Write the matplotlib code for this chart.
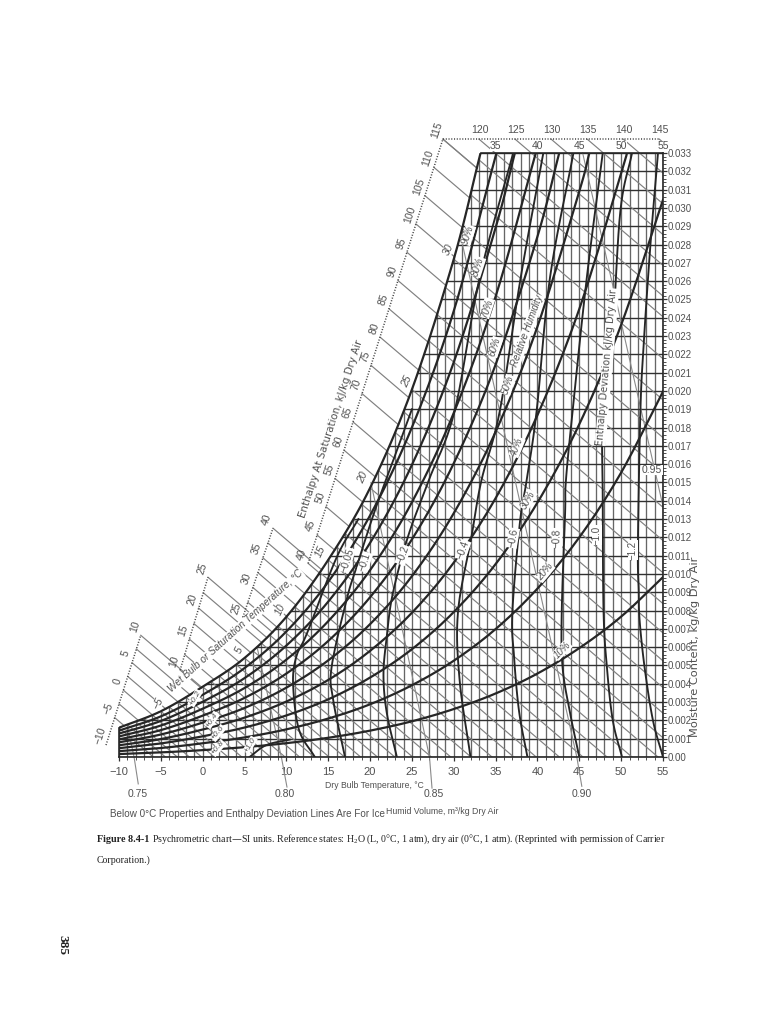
import numpy as np
import matplotlib
matplotlib.use("Agg")
import matplotlib.pyplot as plt
from matplotlib.patches import Polygon

plt.rcParams['font.family'] = ['Liberation Sans', 'DejaVu Sans']
plt.rcParams['mathtext.default'] = 'regular'

# Saturation curve and relative humidity curves (dry bulb C, kg/kg)
sat_t = [-10, -5, 0, 5, 10, 15, 20, 25, 30, 33.2]
sat_w = [0.0016, 0.0025, 0.00384, 0.00541, 0.00766, 0.01077, 0.0147, 0.02008, 0.0272, 0.033]

rh_t = [-10, -5, 0, 5, 10, 15, 20, 25, 30, 35, 40, 45, 50, 55]
rh_90_t = [-10, -5, 0, 5, 10, 15, 20, 25, 30, 35.1]
rh_90 = [0.00144, 0.00222, 0.0034, 0.00486, 0.00686, 0.00957, 0.0132, 0.01801, 0.02437, 0.033]
rh_80_t = [-10, -5, 0, 5, 10, 15, 20, 25, 30, 35, 37.3]
rh_80 = [0.00128, 0.00197, 0.00302, 0.00431, 0.00609, 0.00849, 0.0117, 0.01596, 0.02157, 0.02892, 0.033]
rh_70_t = [-10, -5, 0, 5, 10, 15, 20, 25, 30, 35, 39.8]
rh_70 = [0.00112, 0.00172, 0.00264, 0.00377, 0.00532, 0.00742, 0.01021, 0.01392, 0.0188, 0.02516, 0.033]
rh_60_t = [-10, -5, 0, 5, 10, 15, 20, 25, 30, 35, 40, 42.6]
rh_60 = [0.00096, 0.00147, 0.00226, 0.00323, 0.00456, 0.00634, 0.00873, 0.01189, 0.01605, 0.02144, 0.02844, 0.033]
rh_50_t = [-10, -5, 0, 5, 10, 15, 20, 25, 30, 35, 40, 45, 46.2]
rh_50 = [0.0008, 0.00123, 0.00188, 0.00268, 0.00379, 0.00528, 0.00726, 0.00988, 0.01332, 0.01777, 0.02352, 0.03091, 0.033]
rh_40_t = [-10, -5, 0, 5, 10, 15, 20, 25, 30, 35, 40, 45, 50, 50.7]
rh_40 = [0.00064, 0.00098, 0.0015, 0.00215, 0.00303, 0.00421, 0.0058, 0.00788, 0.01062, 0.01414, 0.01868, 0.02448, 0.03188, 0.033]
rh_30 = [0.00048, 0.00074, 0.00113, 0.00161, 0.00227, 0.00315, 0.00434, 0.00589, 0.00792, 0.01054, 0.0139, 0.01818, 0.02361, 0.03044]
rh_20 = [0.00032, 0.00049, 0.00075, 0.00107, 0.00151, 0.0021, 0.00288, 0.00392, 0.00526, 0.00699, 0.0092, 0.012, 0.01554, 0.01997]
rh_10 = [0.00016, 0.00025, 0.000375, 0.000536, 0.000755, 0.00105, 0.00144, 0.00195, 0.00262, 0.00347, 0.00456, 0.00595, 0.00767, 0.00983]

# Enthalpy deviation curves
dev_005_t = [13.4, 11.5, 10.8, 11.2, 12.5, 16.0, 18.6]
dev_005_w = [0, 0.0015, 0.004, 0.0055, 0.0068, 0.0109, 0.013]
dev_01_t = [17, 15.6, 15.4, 17.2, 18.4, 20.6, 23, 25]
dev_01_w = [0, 0.0031, 0.0049, 0.0086, 0.0104, 0.0135, 0.0165, 0.019]
dev_02_t = [23.2, 22, 21.6, 22, 22.7, 24.5, 27, 30.1, 33.1, 37.1]
dev_02_w = [0, 0.0024, 0.0045, 0.0066, 0.0089, 0.012, 0.0151, 0.0189, 0.0262, 0.033]
dev_04_t = [32, 30.7, 30.5, 32.1, 33.3, 35.5, 38, 40.7]
dev_04_w = [0, 0.0042, 0.0079, 0.012, 0.0151, 0.0189, 0.0262, 0.033]
dev_06_t = [38.8, 37.8, 37.2, 37, 37.9, 38.7, 39.9, 41.5, 44.3]
dev_06_w = [0, 0.0025, 0.0055, 0.0079, 0.0128, 0.0151, 0.0189, 0.0262, 0.033]
dev_08_t = [45, 43.9, 43, 42.9, 43.3, 43.4, 44.2, 45.9, 47.8]
dev_08_w = [0, 0.0024, 0.0049, 0.0079, 0.0133, 0.0151, 0.0189, 0.0262, 0.033]
dev_10_t = [50.1, 49, 48.3, 47.9, 47.8, 47.8, 48.9, 49.9, 51.3]
dev_10_w = [0, 0.002, 0.0049, 0.0079, 0.014, 0.0189, 0.0226, 0.0298, 0.033]
dev_12_t = [55, 53.8, 52.8, 52.2, 52.1, 52, 52.3, 52.7, 53.5, 54.4]
dev_12_w = [0, 0.002, 0.0049, 0.0075, 0.0091, 0.0115, 0.0189, 0.0226, 0.028, 0.033]
dev_p10_t = [5.6, 7.6, 10.4]
dev_p10_w = [0, 0.00065, 0.00095]

# Humid volume lines, the first point is the leader down to the label
vol_075_t = [-7.7, -8.2, -9.0]
vol_075_w = [-0.00147, 0, 0.0017]
vol_080_t = [10.07, 9.4, 6.5]
vol_080_w = [-0.00164, 0, 0.006]
vol_085_t = [27.4, 27.1, 20.1]
vol_085_w = [-0.0017, 0, 0.015]
vol_090_t = [45.3, 44.7, 30.8]
vol_090_w = [-0.0016, 0, 0.0285]
vol_095_t = [55, 45.4]
vol_095_w = [0.0137, 0.033]

wet_bulb = np.arange(-10, 34)
wb_slope = -0.00039

# Enthalpy scales: (first h, last h, step, start T, start w, end T, end w)
scale_seg = [
    (-10, 10, 2.5, -11.55, 0.00065, -7.4, 0.00665),
    (10, 25, 2.5, -2.7, 0.00475, 0.63, 0.00982),
    (25, 40, 2.5, 4.8, 0.00764, 8.4, 0.0125),
    (40, 115, 5, 12.6, 0.01058, 28.7, 0.03376),
    (115, 145, 5, 28.7, 0.03376, 54.55, 0.03376),
]

fig = plt.figure(figsize=(7.68, 10.24), dpi=100)
ax = fig.add_axes([119 / 768, 1 - 757 / 1024, 544 / 768, 604 / 1024])
ax.set_xlim(-10, 55)
ax.set_ylim(0, 0.033)
ax.patch.set_visible(False)

DARK = '#262626'
GREY = '#808080'
TXT = '#505050'


def page_text(x, y, s, **kw):
    # x, y in picture pixels, only for the labels
    kw.setdefault('ha', 'center')
    kw.setdefault('va', 'center')
    kw.setdefault('color', TXT)
    return fig.text(x / 768, 1 - y / 1024, s, zorder=10, **kw)


def smooth(x, y, n=10):
    # cubic through the read points so the heavy curves have no corners
    x, y = np.asarray(x, float), np.asarray(y, float)
    dx, dy = np.gradient(x), np.gradient(y)
    s = np.linspace(0, 1, n, endpoint=False)[:, None]
    h00, h10, h01, h11 = 2*s**3 - 3*s**2 + 1, s**3 - 2*s**2 + s, -2*s**3 + 3*s**2, s**3 - s**2
    xs = (h00 * x[:-1] + h10 * dx[:-1] + h01 * x[1:] + h11 * dx[1:]).T.ravel()
    ys = (h00 * y[:-1] + h10 * dy[:-1] + h01 * y[1:] + h11 * dy[1:]).T.ravel()
    return np.append(xs, x[-1]), np.append(ys, y[-1])


# grid, clipped to the area under the saturation curve
st, sw = smooth(sat_t, sat_w)
clip = Polygon(list(zip(st, sw)) + [(55, 0.033), (55, 0), (-10, 0)], closed=True,
               transform=ax.transData, fc='none', ec='none')
ax.add_patch(clip)
for t in range(-10, 56):
    ln, = ax.plot([t, t], [0, 0.033], color='#666666', lw=0.95, zorder=1)
    ln.set_clip_path(clip)
for i in range(0, 34):
    ln, = ax.plot([-10, 55], [i / 1000, i / 1000], color='#303030', lw=1.0, zorder=1)
    ln.set_clip_path(clip)

# wet bulb lines inside the chart
for tw in wet_bulb:
    w0 = np.interp(tw, st, sw)
    tend = min(55, tw + w0 / -wb_slope)
    ax.plot([tw, tend], [w0, w0 + wb_slope * (tend - tw)], color=GREY, lw=0.85, zorder=2)

# enthalpy scales and the lines that leave them
for h0, h1, step, t0, w0, t1, w1 in scale_seg:
    ax.plot([t0, t1], [w0, w1], color='#444444', lw=1.1, ls=(0, (0.7, 1.1)), clip_on=False, zorder=3)
    for h in np.arange(h0, h1 + 0.01, step):
        f = (h - h0) / (h1 - h0)
        ts = t0 + f * (t1 - t0)
        ws = w0 + f * (w1 - w0)
        tt = np.linspace(ts, 55, 800)
        ww = ws + wb_slope * (tt - ts)
        if h <= 115:
            below = np.nonzero(ww <= np.interp(tt, st, sw))[0]
            end = below[0] if len(below) else len(tt) - 1
        else:
            end = len(tt) - 1
        ax.plot([ts, tt[end]], [ws, ww[end]], color=GREY, lw=0.85, clip_on=False, zorder=2)
    for h in np.arange(h0, h1 + 0.01, 5):
        f = (h - h0) / (h1 - h0)
        ts = t0 + f * (t1 - t0)
        ws = w0 + f * (w1 - w0)
        if h0 == 115:
            if h == 115:
                continue
            ax.annotate(str(int(h)), (ts, ws), xytext=(1, 9), textcoords='offset pixels',
                        ha='center', va='center', fontsize=7.5, color=TXT, annotation_clip=False)
        else:
            ax.annotate(str(int(h)).replace('-', '\u2212'), (ts, ws), xytext=(-6, 9), textcoords='offset pixels',
                        ha='center', va='center', fontsize=7.5, color=TXT, rotation=72,
                        annotation_clip=False)

# humid volume lines
for vt, vw in [(vol_075_t, vol_075_w), (vol_080_t, vol_080_w), (vol_085_t, vol_085_w),
               (vol_090_t, vol_090_w), (vol_095_t, vol_095_w)]:
    ax.plot(vt, vw, color='#8a8a8a', lw=0.8, clip_on=False, zorder=2.5)

# heavy curves
ax.plot(st, sw, color=DARK, lw=1.6, zorder=4)
ax.plot([sat_t[-1], 55], [0.033, 0.033], color=DARK, lw=1.2, zorder=4, clip_on=False)
ax.plot([-10, -10], [0, sat_w[0]], color=DARK, lw=1.2, zorder=4, clip_on=False)
for rt, rw in [(rh_90_t, rh_90), (rh_80_t, rh_80), (rh_70_t, rh_70), (rh_60_t, rh_60),
               (rh_50_t, rh_50), (rh_40_t, rh_40), (rh_t, rh_30), (rh_t, rh_20), (rh_t, rh_10)]:
    ax.plot(*smooth(rt, rw), color=DARK, lw=1.6, zorder=4)
for dt, dw in [(dev_005_t, dev_005_w), (dev_01_t, dev_01_w), (dev_02_t, dev_02_w), (dev_04_t, dev_04_w),
               (dev_06_t, dev_06_w), (dev_08_t, dev_08_w), (dev_10_t, dev_10_w), (dev_12_t, dev_12_w),
               (dev_p10_t, dev_p10_w)]:
    ax.plot(*smooth(dt, dw), color=DARK, lw=1.35, zorder=4)

# axes
for s in ['top', 'left']:
    ax.spines[s].set_visible(False)
for s in ['bottom', 'right']:
    ax.spines[s].set_color(DARK)
    ax.spines[s].set_linewidth(1.2)
ax.set_xticks(np.arange(-10, 56, 5))
ax.set_xticks(np.arange(-10, 56, 1), minor=True)
ax.set_xticklabels([str(v).replace('-', '\u2212') for v in range(-10, 56, 5)])
ax.set_yticks(np.arange(0, 34) / 1000)
ax.set_yticks(np.arange(0, 166) / 5000, minor=True)
ax.set_yticklabels(['0.00'] + ['%.3f' % (i / 1000) for i in range(1, 34)])
ax.yaxis.tick_right()
ax.tick_params(axis='y', which='major', length=3, width=0.9, color='#333333',
               labelsize=7, labelcolor=TXT, pad=0.5)
ax.tick_params(axis='x', which='major', length=3, width=0.9, color='#333333',
               labelsize=8, labelcolor=TXT, pad=4)
ax.tick_params(axis='both', which='minor', length=1.8, width=0.6, color='#333333')

# top dry bulb labels
top_labels = [35, 40, 45, 50, 55]
for t in top_labels:
    ax.annotate(str(t), (t, 0.033), xytext=(0, 7), textcoords='offset pixels', ha='center', va='center',
                fontsize=7.5, color=TXT, annotation_clip=False, zorder=6,
                bbox=dict(fc='white', ec='none', pad=0.2))

# text labels on the chart (x, y, text, rotation)
box = dict(fc='white', ec='none', pad=0.3)
rh_labels = [(468, 235, '90%', 72), (478, 267, '80%', 72), (487, 308, '70%', 72), (495, 347, '60%', 72),
             (508, 385, '50%', 72), (517, 447, '40%', 68), (528, 500, '30%', 60), (545, 572, '20%', 50),
             (562, 650, '10%', 45)]
for x, y, s, r in rh_labels:
    page_text(x, y, s, rotation=r, fontsize=7, style='italic', bbox=box)
page_text(527, 331, 'Relative Humidity', rotation=70, fontsize=7, style='italic', bbox=box)

dev_labels = [(347, 560, '\u22120.05', 72), (365, 562, '\u22120.1', 72), (403, 555, '\u22120.2', 70),
              (463, 550, '\u22120.4', 70), (513, 538, '\u22120.6', 80), (557, 538, '\u22120.8', 88),
              (597, 535, '\u22121.0', 90), (633, 550, '\u22121.2', 90)]
for x, y, s, r in dev_labels:
    page_text(x, y, s, rotation=r, fontsize=7, bbox=box)
plus_labels = [(195, 698, '+0.2', 60), (212, 720, '+0.4', 55), (218, 733, '+0.6', 50),
               (218, 748, '+0.8', 50), (250, 745, '+1.0', 60)]
for x, y, s, r in plus_labels:
    page_text(x, y, s, rotation=r, fontsize=6, style='italic', bbox=box)
wb_labels = [(158, 703, '\u22125'), (239, 650, '5'), (280, 610, '10'), (320, 552, '15'),
             (363, 478, '20'), (407, 382, '25'), (448, 250, '30')]
for x, y, s in wb_labels:
    page_text(x, y, s, rotation=65, fontsize=7.5, style='italic', bbox=dict(fc='white', ec='none', pad=0.1))

page_text(236, 631, 'Wet Bulb or Saturation Temperature, \u00b0C', rotation=42, fontsize=7.2, style='italic', bbox=box)
page_text(331, 429, 'Enthalpy At Saturation, kJ/kg Dry Air', rotation=72, fontsize=7.4, family='DejaVu Sans')
page_text(607, 367, 'Enthalpy Deviation kJ/kg Dry Air', rotation=85, fontsize=7.0, family='DejaVu Sans', bbox=box)
page_text(695, 647, 'Moisture Content, kg/kg Dry Air', rotation=90, fontsize=8.2, family='DejaVu Sans')

for x, s in [(138, '0.75'), (285, '0.80'), (434, '0.85'), (582, '0.90')]:
    page_text(x, 794, s, fontsize=7.5)
page_text(652, 470, '0.95', fontsize=7.5, bbox=box)
page_text(325, 786, 'Dry Bulb Temperature, \u00b0C', fontsize=6.2, ha='left')
page_text(442, 812, 'Humid Volume, m\u00b3/kg Dry Air', fontsize=6.3)
page_text(248, 814, 'Below 0\u00b0C Properties and Enthalpy Deviation Lines Are For Ice', fontsize=7.1)

# caption and page number
cap = ['Liberation Serif', 'DejaVu Serif']
page_text(97, 839, 'Figure 8.4-1', family=cap, fontsize=7.3, weight='bold', color='#222222', ha='left')
page_text(152, 839, 'Psychrometric chart\u2014SI units. Reference states: H$_2$O (L, 0\u00b0C, 1 atm), dry air '
          '(0\u00b0C, 1 atm). (Reprinted with permission of Carrier', family=cap, fontsize=7.1,
          color='#222222', ha='left')
page_text(97, 860, 'Corporation.)', family=cap, fontsize=7.1, color='#222222', ha='left')
page_text(62, 945, '385', family=cap, fontsize=9.5, weight='bold', rotation=270, color='#222222')

fig.savefig('out.png', dpi=100, facecolor='white')
